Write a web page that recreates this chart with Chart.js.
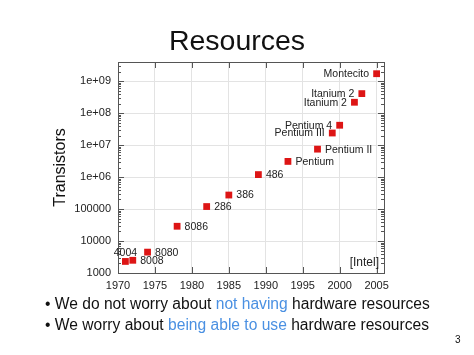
<!DOCTYPE html>
<html><head><meta charset="utf-8">
<script src="https://cdn.jsdelivr.net/npm/chart.js@4/dist/chart.umd.min.js"></script>
<style>
html,body{margin:0;padding:0;background:#fff;}
#wrap{position:relative;width:474px;height:355px;overflow:hidden;font-family:"Liberation Sans",Arial,sans-serif;}
#c{position:absolute;left:0;top:0;}
.t{position:absolute;white-space:nowrap;color:#111;line-height:1;}
.b{color:#4a90e2;}
</style></head><body>
<div id="wrap">
<canvas id="c" width="474" height="355"></canvas>
<div class="t" style="left:0;width:474px;text-align:center;top:26px;font-size:28.5px;line-height:28.5px;">Resources</div>
<div class="t" style="left:45px;top:295.5px;font-size:15.6px;line-height:16px;">• We do not worry about <span class="b">not having</span> hardware resources</div>
<div class="t" style="left:45px;top:317px;font-size:15.6px;line-height:16px;">• We worry about <span class="b">being able to use</span> hardware resources</div>
<div class="t" style="left:455px;top:335px;font-size:10px;line-height:10px;">3</div>
</div>
<script>
// ---- data ----
const chipNames   = ['4004','8008','8080','8086','286','386','486','Pentium','Pentium II','Pentium III','Pentium 4','Itanium 2','Itanium 2','Montecito'];
const years       = [1971, 1972, 1974, 1978, 1982, 1985, 1989, 1993, 1997, 1999, 2000, 2002, 2003, 2005];
const transistors = [2300, 2500, 4500, 29000, 120000, 275000, 1200000, 3100000, 7500000, 24000000, 42000000, 220000000, 410000000, 1720000000];
const xTickValues = [1970, 1975, 1980, 1985, 1990, 1995, 2000, 2005];
const yTickValues = [1e3, 1e4, 1e5, 1e6, 1e7, 1e8, 1e9];
const yTickLabels = ['1000','10000','100000','1e+06','1e+07','1e+08','1e+09'];
const sourceNote  = '[Intel]';

// label placement (style, kept separate from data)
const labelSide = ['above','right','right','right','right','right','right','right','right','left','left','left','left','left'];

const points = years.map((y, i) => ({x: y, y: transistors[i]}));
const FONT = '"Liberation Sans", Arial, sans-serif';

const framePlugin = {
  id: 'frame',
  afterDraw(chart) {
    const {ctx, chartArea: a, scales} = chart;
    const xs = scales.x, ys = scales.y;
    ctx.save();
    ctx.strokeStyle = '#555';
    ctx.lineWidth = 1;
    ctx.beginPath();
    yTickValues.forEach(v => {
      const p = Math.round(ys.getPixelForValue(v)) + 0.5;
      ctx.moveTo(a.left, p); ctx.lineTo(a.left + 6, p);
      ctx.moveTo(a.right, p); ctx.lineTo(a.right - 6, p);
    });
    for (let d = 3; d <= 9; d++) {
      for (let k = 2; k <= 9; k++) {
        const v = k * Math.pow(10, d);
        if (v > ys.max) continue;
        const p = Math.round(ys.getPixelForValue(v)) + 0.5;
        ctx.moveTo(a.left, p); ctx.lineTo(a.left + 3, p);
        ctx.moveTo(a.right, p); ctx.lineTo(a.right - 3, p);
      }
    }
    xTickValues.forEach(v => {
      const p = Math.round(xs.getPixelForValue(v)) + 0.5;
      ctx.moveTo(p, a.bottom); ctx.lineTo(p, a.bottom - 6);
      ctx.moveTo(p, a.top); ctx.lineTo(p, a.top + 6);
    });
    ctx.stroke();
    ctx.strokeRect(Math.round(a.left) + 0.5, Math.round(a.top) + 0.5,
                   Math.round(a.right - a.left), Math.round(a.bottom - a.top));
    ctx.fillStyle = '#222';
    ctx.font = '10.5px ' + FONT;
    const meta = chart.getDatasetMeta(0);
    meta.data.forEach((el, i) => {
      const side = labelSide[i];
      if (side === 'right') {
        ctx.textAlign = 'left'; ctx.textBaseline = 'middle';
        ctx.fillText(chipNames[i], el.x + 7.5, el.y + 0.5);
      } else if (side === 'left') {
        ctx.textAlign = 'right'; ctx.textBaseline = 'middle';
        ctx.fillText(chipNames[i], el.x - 7.5, el.y + 0.5);
      } else {
        ctx.textAlign = 'center'; ctx.textBaseline = 'bottom';
        ctx.fillText(chipNames[i], el.x, el.y - 3);
      }
    });
    ctx.font = '12px ' + FONT;
    ctx.textAlign = 'right'; ctx.textBaseline = 'middle';
    ctx.fillText(sourceNote, a.right - 5, a.bottom - 10);
    ctx.restore();
  }
};

new Chart(document.getElementById('c'), {
  type: 'scatter',
  data: {
    datasets: [{
      data: points,
      pointStyle: 'rect',
      pointRadius: 4.8,
      pointHoverRadius: 4.8,
      backgroundColor: '#dd1515',
      borderColor: '#dd1515',
      borderWidth: 0
    }]
  },
  options: {
    responsive: false,
    animation: false,
    events: [],
    layout: { padding: { top: 62, right: 90, bottom: 62, left: 0 } },
    plugins: { legend: { display: false }, tooltip: { enabled: false } },
    scales: {
      x: {
        type: 'linear',
        min: 1970, max: 2006,
        afterBuildTicks: s => { s.ticks = xTickValues.map(v => ({value: v})); },
        afterFit: s => { s.height = 20; },
        grid: { color: '#e3e3e3', drawTicks: false },
        border: { display: false },
        ticks: { color: '#222', font: { family: FONT, size: 11 }, padding: 6,
                 callback: v => String(v), maxRotation: 0, autoSkip: false }
      },
      y: {
        type: 'logarithmic',
        min: 1000, max: 4e9,
        afterBuildTicks: s => { s.ticks = yTickValues.map(v => ({value: v})); },
        afterFit: s => { s.width = 118; },
        grid: { color: '#e3e3e3', drawTicks: false },
        border: { display: false },
        ticks: { color: '#222', font: { family: FONT, size: 11 }, padding: 7,
                 callback: (v, i) => yTickLabels[i], autoSkip: false },
        title: { display: true, text: 'Transistors', color: '#111',
                 font: { family: FONT, size: 16 }, padding: { top: 51, bottom: 0 } }
      }
    }
  },
  plugins: [framePlugin]
});
</script>
</body></html>
